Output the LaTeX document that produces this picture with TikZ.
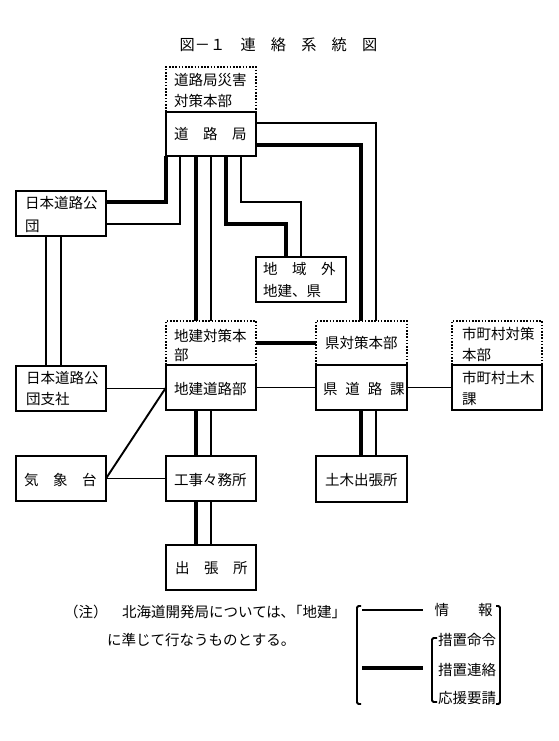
\documentclass[tikz,border=0pt]{standalone}
\usepackage{fontspec}
\newfontfamily\jp{Noto Sans CJK JP}
\begin{document}
\begin{tikzpicture}[x=1pt,y=-1pt,
  box/.style={draw, line width=2pt, minimum width=90pt, minimum height=45pt, anchor=north west, inner sep=0pt, outer sep=0pt},
  hbox/.style={minimum width=90pt, minimum height=44pt, anchor=north west, inner sep=0pt, outer sep=0pt},
  dotl/.style={line width=2pt, dash pattern=on 1.6pt off 1.6pt},
  thinl/.style={line width=1.9pt},
  thickl/.style={line width=3.7pt},
  brk/.style={line width=1.9pt, rounded corners=1.5pt},
  txt/.style={anchor=west, inner sep=0pt, font=\jp\fontsize{14.5pt}{16pt}\selectfont},
  ttl/.style={anchor=west, inner sep=0pt, font=\jp\fontsize{15.2pt}{17pt}\selectfont}]
\useasboundingbox[fill=white] (0,0) rectangle (559,741);

% title
\node[ttl] (title) at (179.5,45) {図－１　連　絡　系　統　図};

% boxes
\node[hbox, minimum height=45pt] (hq) at (166,67) {};
\node[box, minimum height=44pt] (road) at (166,112) {};
\node[box] (jh) at (16,191) {};
\node[box] (out) at (256,257) {};
\node[hbox] (ctai) at (166,321) {};
\node[box] (ck) at (166,365) {};
\node[hbox, minimum width=91pt] (kentai) at (316,321) {};
\node[box, minimum width=91pt] (kd) at (316,365) {};
\node[hbox] (shitai) at (452,321) {};
\node[box] (shi) at (452,365) {};
\node[box] (jhs) at (16,366) {};
\node[box] (kishou) at (16,456) {};
\node[box] (koji) at (166,456) {};
\node[box, minimum width=91pt, minimum height=46pt] (doboku) at (316,456) {};
\node[box] (shutcho) at (166,545) {};

% dotted headquarters boxes
\draw[dotl] (hq.south west) -- (hq.north west) -- (hq.north east) -- (hq.south east);
\draw[dotl] (ctai.south west) -- (ctai.north west) -- (ctai.north east) -- (ctai.south east);
\draw[dotl] (kentai.south west) -- (kentai.north west) -- (kentai.north east) -- (kentai.south east);
\draw[dotl] (shitai.south west) -- (shitai.north west) -- (shitai.north east) -- (shitai.south east);

% texts
\node[txt] (t1) at (174,80) {道路局災害};
\node[txt] (t2) at (174,101) {対策本部};
\node[txt] (t3) at (174,134) {道　路　局};
\node[txt] (t4) at (25,203) {日本道路公};
\node[txt] (t5) at (25,226) {団};
\node[txt] (t6) at (263,269) {地　域　外};
\node[txt] (t7) at (263,291) {地建、県};
\node[txt] (t8) at (174,336) {地建対策本};
\node[txt] (t9) at (174,355) {部};
\node[txt] (t10) at (174,389) {地建道路部};
\node[txt] (t11) at (325,343) {県対策本部};
\node[txt] (t12) at (323,389) {県\hspace{7.8pt}道\hspace{7.8pt}路\hspace{7.8pt}課};
\node[txt] (t13) at (325,480) {土木出張所};
\node[txt] (t14) at (462,334) {市町村対策};
\node[txt] (t15) at (462,355) {本部};
\node[txt] (t16) at (462,378) {市町村土木};
\node[txt] (t17) at (462,399) {課};
\node[txt] (t18) at (26,378) {日本道路公};
\node[txt] (t19) at (26,399) {団支社};
\node[txt] (t20) at (24,480) {気　象　台};
\node[txt] (t21) at (174,480) {工事々務所};
\node[txt] (t22) at (175,568) {出　張　所};

% connectors
\draw[thinl] ([yshift=-11pt]road.north east) -| ([xshift=60pt]kentai.north west);
\draw[thickl] ([yshift=-33pt]road.north east) -| ([xshift=45pt]kentai.north west);
\draw[thickl] (road.south west) |- ([yshift=-11pt]jh.north east);
\draw[thinl] ([xshift=14pt]road.south west) |- ([yshift=-33pt]jh.north east);
\draw[thickl] ([xshift=30pt]road.south west) -- ([xshift=30pt]ctai.north west);
\draw[thinl] ([xshift=45pt]road.south west) -- ([xshift=45pt]ctai.north west);
\draw[thickl] ([xshift=60pt]road.south west) -- ++(0,68) -| ([xshift=30pt]out.north west);
\draw[thinl] ([xshift=75pt]road.south west) -- ++(0,46) -| ([xshift=45pt]out.north west);
\draw[thinl] ([xshift=30pt]jh.south west) -- ([xshift=30pt]jhs.north west);
\draw[thinl] ([xshift=45pt]jh.south west) -- ([xshift=45pt]jhs.north west);
\draw[thickl] (ctai.east) -- (kentai.west);
\draw[thinl] (jhs.east) -- (jhs.east -| ck.west);
\draw[thinl] (ck.east) -- (kd.west);
\draw[thinl] (kd.east) -- (shi.west);
\draw[thinl] (kishou.east) -- (ck.west);
\draw[thinl] (kishou.east) -- (koji.west);
\draw[thickl] ([xshift=30pt]ck.south west) -- ([xshift=30pt]koji.north west);
\draw[thinl] ([xshift=45pt]ck.south west) -- ([xshift=45pt]koji.north west);
\draw[thickl] ([xshift=30pt]koji.south west) -- ([xshift=30pt]shutcho.north west);
\draw[thinl] ([xshift=45pt]koji.south west) -- ([xshift=45pt]shutcho.north west);
\draw[thickl] ([xshift=45pt]kd.south west) -- ([xshift=45pt]doboku.north west);
\draw[thinl] ([xshift=60pt]kd.south west) -- ([xshift=60pt]doboku.north west);

% note
\node[txt] (n1) at (64,612) {（注）　北海道開発局については､「地建」};
\node[txt] (n2) at (107,640) {に準じて行なうものとする。};

% legend
\coordinate (la1) at (362,610);
\coordinate (lb1) at (423,610);
\coordinate (la2) at (362,668);
\coordinate (lb2) at (423,668);
\draw[thinl] (la1) -- (lb1);
\draw[thickl] (la2) -- (lb2);
\draw[brk] (361,606) -- (357,606) -- (357,704) -- (361,704);
\draw[brk] (496,606) -- (500,606) -- (500,704) -- (496,704);
\draw[brk] (437,638) -- (432,638) -- (432,702) -- (437,702);
\node[txt] (g1) at (434.5,610) {情　　報};
\node[txt] (g2) at (438,640) {措置命令};
\node[txt] (g3) at (438,670) {措置連絡};
\node[txt] (g4) at (438,698) {応援要請};
\end{tikzpicture}
\end{document}
